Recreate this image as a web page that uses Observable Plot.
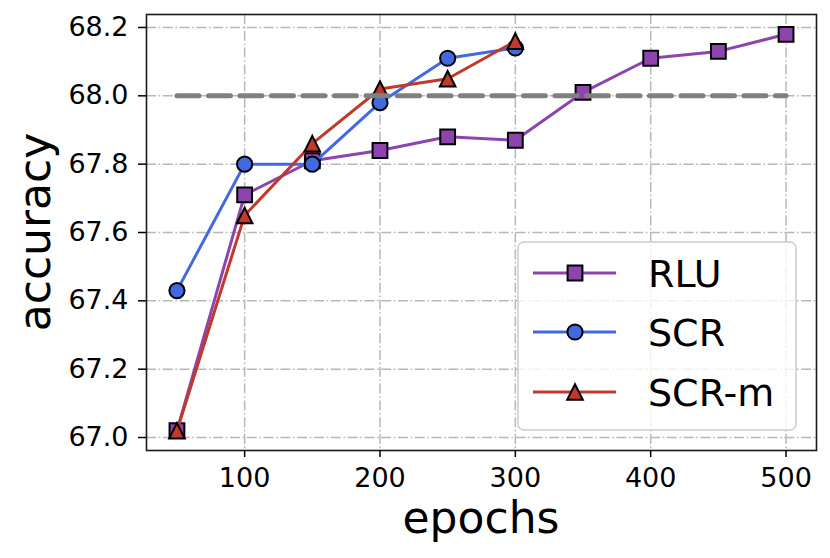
<!DOCTYPE html>
<html>
<head>
<meta charset="utf-8">
<script src="https://cdn.jsdelivr.net/npm/d3@7"></script>
<script src="https://cdn.jsdelivr.net/npm/@observablehq/plot@0.6"></script>
<style>
  html, body { margin: 0; padding: 0; background: #fff; }
  #chart { width: 830px; height: 558px; }
</style>
</head>
<body>
<div id="chart"></div>
<script>
const epochs = [50, 100, 150, 200, 250, 300, 350, 400, 450, 500];
const rlu = [67.02, 67.71, 67.81, 67.84, 67.88, 67.87, 68.01, 68.11, 68.13, 68.18];
const scrEpochs = [50, 100, 150, 200, 250, 300];
const scr = [67.43, 67.80, 67.80, 67.98, 68.11, 68.14];
const scrm = [67.02, 67.65, 67.86, 68.02, 68.05, 68.16];
const baselineEpochs = [50, 500];
const baselineValue = 68.0;
const xTicks = [100, 200, 300, 400, 500];
const yTicks = [67.0, 67.2, 67.4, 67.6, 67.8, 68.0, 68.2];
const seriesNames = ["RLU", "SCR", "SCR-m"];
const seriesColors = ["#8e44ad", "#4169e1", "#c0392b"];

const rluRows = epochs.map((e, i) => ({epoch: e, acc: rlu[i]}));
const scrRows = scrEpochs.map((e, i) => ({epoch: e, acc: scr[i]}));
const scrmRows = scrEpochs.map((e, i) => ({epoch: e, acc: scrm[i]}));
const baseRows = baselineEpochs.map(e => ({epoch: e, acc: baselineValue}));

// matplotlib-like markers (size = pi*r^2)
const sqSym = {draw(ctx, size) { const a = Math.sqrt(size / Math.PI); ctx.moveTo(-a, -a); ctx.lineTo(a, -a); ctx.lineTo(a, a); ctx.lineTo(-a, a); ctx.closePath(); }};
const triSym = {draw(ctx, size) { const a = Math.sqrt(size / Math.PI); ctx.moveTo(0, -a); ctx.lineTo(a, a); ctx.lineTo(-a, a); ctx.closePath(); }};
const circSym = {draw(ctx, size) { const a = Math.sqrt(size / Math.PI); ctx.moveTo(a, 0); ctx.arc(0, 0, a, 0, 2 * Math.PI); ctx.closePath(); }};
const syms = [sqSym, circSym, triSym];
const radii = [7.4, 7.6, 7.8];

const gridStyle = {stroke: "#b8b8b8", strokeOpacity: 1, strokeWidth: 1.5, strokeDasharray: "10,2.6,1.6,2.6"};

const chart = Plot.plot({
  width: 830,
  height: 558,
  marginLeft: 146,
  marginRight: 14,
  marginTop: 14,
  marginBottom: 108,
  style: {fontFamily: "DejaVu Sans", fontSize: "27px", background: "white", color: "black"},
  x: {domain: [27.5, 522.5], ticks: xTicks},
  y: {domain: [66.962, 68.238], ticks: yTicks},
  marks: [
    Plot.gridX(xTicks, gridStyle),
    Plot.gridY(yTicks, gridStyle),
    Plot.line(rluRows, {x: "epoch", y: "acc", stroke: seriesColors[0], strokeWidth: 3}),
    Plot.dot(rluRows, {x: "epoch", y: "acc", symbol: syms[0], r: radii[0], fill: seriesColors[0], stroke: "black", strokeWidth: 2}),
    Plot.line(scrRows, {x: "epoch", y: "acc", stroke: seriesColors[1], strokeWidth: 3}),
    Plot.dot(scrRows, {x: "epoch", y: "acc", symbol: syms[1], r: radii[1], fill: seriesColors[1], stroke: "black", strokeWidth: 2}),
    Plot.line(scrmRows, {x: "epoch", y: "acc", stroke: seriesColors[2], strokeWidth: 3}),
    Plot.dot(scrmRows, {x: "epoch", y: "acc", symbol: syms[2], r: radii[2], fill: seriesColors[2], stroke: "black", strokeWidth: 2, strokeLinejoin: "miter"}),
    Plot.line(baseRows, {x: "epoch", y: "acc", stroke: "#808080", strokeWidth: 5, strokeDasharray: "22,9.5"}),
    Plot.frame({stroke: "#1a1a1a", strokeWidth: 1.6}),
    Plot.axisX({ticks: xTicks, tickSize: 7, tickPadding: 10, strokeWidth: 1.5, label: null, fontSize: 27}),
    Plot.axisY({ticks: yTicks, tickSize: 8, tickPadding: 10, strokeWidth: 1.5, label: null, fontSize: 27, tickFormat: d => d.toFixed(1)})
  ]
});

document.getElementById("chart").appendChild(chart);

const svg = d3.select(chart);
svg.append("text")
  .attr("x", 481).attr("y", 533)
  .attr("text-anchor", "middle")
  .attr("font-family", "DejaVu Sans").attr("font-size", 44)
  .attr("fill", "black")
  .text("epochs");
svg.append("text")
  .attr("transform", "translate(50,232) rotate(-90)")
  .attr("text-anchor", "middle")
  .attr("font-family", "DejaVu Sans").attr("font-size", 44)
  .attr("fill", "black")
  .text("accuracy");

// legend
const lg = svg.append("g");
lg.append("rect")
  .attr("x", 518).attr("y", 242).attr("width", 278).attr("height", 188)
  .attr("rx", 6).attr("ry", 6)
  .attr("fill", "white").attr("fill-opacity", 0.8)
  .attr("stroke", "#cccccc").attr("stroke-width", 1.5);
const rowsY = [273, 332, 392];
seriesNames.forEach((name, i) => {
  const y = rowsY[i];
  lg.append("line")
    .attr("x1", 533).attr("x2", 616).attr("y1", y).attr("y2", y)
    .attr("stroke", seriesColors[i]).attr("stroke-width", 3);
  lg.append("path")
    .attr("d", d3.symbol(syms[i], Math.PI * radii[i] * radii[i])())
    .attr("transform", `translate(575,${y})`)
    .attr("fill", seriesColors[i]).attr("stroke", "black").attr("stroke-width", 2);
  lg.append("text")
    .attr("x", 648).attr("y", y + 14)
    .attr("text-anchor", "start")
    .attr("font-family", "DejaVu Sans").attr("font-size", 38)
    .attr("fill", "black")
    .text(name);
});
</script>
</body>
</html>
